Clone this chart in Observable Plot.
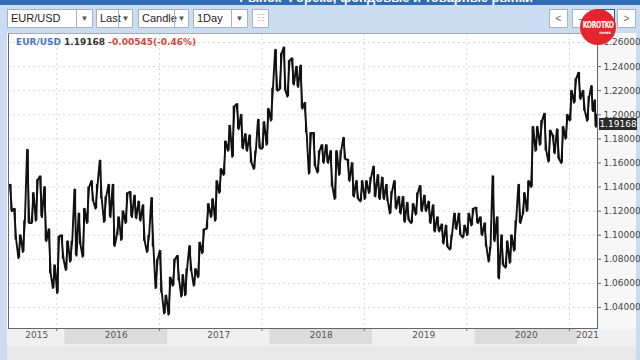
<!DOCTYPE html>
<html><head><meta charset="utf-8">
<script src="https://cdn.jsdelivr.net/npm/d3@7"></script>
<script src="https://cdn.jsdelivr.net/npm/@observablehq/plot@0.6"></script>
<style>
body{margin:0;background:#fff;}
#wrap{position:relative;width:640px;height:360px;overflow:hidden;background:#c9dcf1;font-family:"Liberation Sans",Arial,sans-serif;}
.abs{position:absolute;}
.box{position:absolute;top:9px;height:19px;background:#fff;border:1px solid #a9b3bd;box-sizing:border-box;font-size:11px;color:#222;line-height:17px;}
.box .lab{position:absolute;left:3px;top:0;}
.box .arr{position:absolute;top:0;right:0;width:15px;height:17px;border-left:1px solid #a9b3bd;text-align:center;font-size:8px;color:#555;}
.btn{position:absolute;top:9px;width:19px;height:19px;background:#fff;border:1px solid #a9b3bd;box-sizing:border-box;font-size:10px;color:#666;text-align:center;line-height:17px;}
#chart{position:absolute;left:0;top:0;width:640px;height:360px;}
#chart svg{position:absolute;left:0;top:0;width:640px;height:360px;max-width:none;}
</style></head><body><div id="wrap"></div>
<script>
// ---- data (semi-monthly EUR/USD ranges) ----
const dates = [
"2015-06-16","2015-07-01","2015-07-16","2015-08-01","2015-08-16","2015-09-01","2015-09-16","2015-10-01","2015-10-16","2015-11-01","2015-11-16","2015-12-01","2015-12-16",
"2016-01-01","2016-01-16","2016-02-01","2016-02-16","2016-03-01","2016-03-16","2016-04-01","2016-04-16","2016-05-01","2016-05-16","2016-06-01","2016-06-16","2016-07-01","2016-07-16","2016-08-01","2016-08-16","2016-09-01","2016-09-16","2016-10-01","2016-10-16","2016-11-01","2016-11-16","2016-12-01","2016-12-16",
"2017-01-01","2017-01-16","2017-02-01","2017-02-16","2017-03-01","2017-03-16","2017-04-01","2017-04-16","2017-05-01","2017-05-16","2017-06-01","2017-06-16","2017-07-01","2017-07-16","2017-08-01","2017-08-16","2017-09-01","2017-09-16","2017-10-01","2017-10-16","2017-11-01","2017-11-16","2017-12-01","2017-12-16",
"2018-01-01","2018-01-16","2018-02-01","2018-02-16","2018-03-01","2018-03-16","2018-04-01","2018-04-16","2018-05-01","2018-05-16","2018-06-01","2018-06-16","2018-07-01","2018-07-16","2018-08-01","2018-08-16","2018-09-01","2018-09-16","2018-10-01","2018-10-16","2018-11-01","2018-11-16","2018-12-01","2018-12-16",
"2019-01-01","2019-01-16","2019-02-01","2019-02-16","2019-03-01","2019-03-16","2019-04-01","2019-04-16","2019-05-01","2019-05-16","2019-06-01","2019-06-16","2019-07-01","2019-07-16","2019-08-01","2019-08-16","2019-09-01","2019-09-16","2019-10-01","2019-10-16","2019-11-01","2019-11-16","2019-12-01","2019-12-16",
"2020-01-01","2020-01-16","2020-02-01","2020-02-16","2020-03-01","2020-03-16","2020-04-01","2020-04-16","2020-05-01","2020-05-16","2020-06-01","2020-06-16","2020-07-01","2020-07-16","2020-08-01","2020-08-16","2020-09-01","2020-09-16","2020-10-01","2020-10-16","2020-11-01","2020-11-16","2020-12-01","2020-12-16",
"2021-01-01","2021-01-16","2021-02-01","2021-02-16","2021-03-01","2021-03-10"
];
const lows = [
1.120,1.096,1.081,1.086,1.110,1.110,1.112,1.115,1.095,1.068,1.056,1.052,1.080,
1.071,1.078,1.083,1.092,1.082,1.110,1.128,1.122,1.130,1.111,1.115,1.091,1.100,1.096,1.110,1.115,1.114,1.112,1.095,1.086,1.090,1.056,1.052,1.035,
1.034,1.058,1.062,1.049,1.050,1.070,1.058,1.065,1.085,1.105,1.115,1.112,1.135,1.150,1.170,1.165,1.188,1.172,1.170,1.160,1.155,1.172,1.172,1.175,
1.195,1.220,1.221,1.220,1.215,1.225,1.223,1.205,1.185,1.151,1.157,1.152,1.160,1.160,1.140,1.130,1.150,1.163,1.145,1.132,1.130,1.128,1.130,1.135,
1.132,1.130,1.130,1.128,1.118,1.122,1.118,1.111,1.112,1.110,1.117,1.120,1.120,1.110,1.103,1.103,1.093,1.090,1.088,1.105,1.100,1.098,1.100,1.108,
1.110,1.100,1.090,1.078,1.095,1.064,1.075,1.073,1.077,1.087,1.110,1.117,1.120,1.140,1.170,1.175,1.170,1.161,1.168,1.163,1.160,1.180,1.195,1.210,
1.213,1.203,1.195,1.203,1.190,1.1917
];
const highs = [
1.142,1.122,1.100,1.112,1.171,1.135,1.146,1.149,1.140,1.105,1.075,1.099,1.100,
1.095,1.095,1.138,1.118,1.122,1.140,1.145,1.142,1.162,1.132,1.142,1.142,1.115,1.120,1.135,1.136,1.133,1.128,1.125,1.100,1.131,1.080,1.087,1.050,
1.065,1.080,1.083,1.067,1.072,1.091,1.072,1.094,1.105,1.126,1.130,1.145,1.155,1.178,1.191,1.207,1.209,1.200,1.184,1.183,1.170,1.196,1.194,1.205,
1.222,1.254,1.251,1.256,1.245,1.247,1.240,1.241,1.210,1.185,1.185,1.170,1.175,1.175,1.170,1.170,1.170,1.181,1.163,1.160,1.145,1.145,1.145,1.148,
1.157,1.150,1.148,1.142,1.136,1.145,1.132,1.132,1.127,1.126,1.135,1.141,1.133,1.128,1.125,1.115,1.109,1.108,1.100,1.118,1.118,1.108,1.118,1.122,
1.123,1.115,1.110,1.090,1.149,1.115,1.100,1.095,1.100,1.112,1.142,1.135,1.145,1.190,1.190,1.195,1.201,1.187,1.183,1.188,1.190,1.200,1.220,1.230,
1.235,1.220,1.215,1.224,1.212,1.200
];
const yTicks = [1.04,1.06,1.08,1.10,1.12,1.14,1.16,1.18,1.20,1.22,1.24,1.26];
const years = [2015,2016,2017,2018,2019,2020,2021];
const gridDates = ["2015-12-03","2016-12-03","2017-12-03","2018-12-03","2019-12-03","2020-12-03"];
const shadedYears = [2016,2018,2020];
const symbol = "EUR/USD", lastPrice = "1.19168", change = "-0.00545(-0.46%)";
const lastValue = 1.19168;

// ---- build ----
const x0 = new Date("2015-06-14"), x1 = new Date("2021-03-13");
const yMin = 1.0225, yMax = 1.2675;
const periods = dates.map((d,i)=>({t:new Date(d), lo:lows[i], hi:highs[i]}));
const zig = [];
periods.forEach((p,i)=>{
  const n = periods[i+1];
  const up = n ? (n.lo+n.hi) > (p.lo+p.hi) : false;
  const span = n ? (n.t - p.t) : 3*864e5;
  p.mid = new Date(+p.t + span*0.45);
  zig.push({t:new Date(+p.t + span*0.2), v: up ? p.lo : p.hi});
  zig.push({t:new Date(+p.t + span*0.7), v: up ? p.hi : p.lo});
});
const yr = y => new Date(Date.UTC(y,0,1));
const labels = years.map(y=>{
  const a = Math.max(+yr(y), +x0), b = Math.min(+yr(y+1), +x1);
  return {year:y, t:new Date((a+b)/2)};
});
const pxPerUnit = 24/0.02;
const chart = Plot.plot({
  width:640, height:360,
  marginLeft:8, marginRight:43, marginTop:33, marginBottom:32,
  style:{background:"transparent", fontFamily:"DejaVu Sans", fontSize:"9px", color:"#444", overflow:"visible"},
  x:{type:"utc", domain:[x0,x1], axis:null},
  y:{domain:[yMin,yMax], axis:null},
  marks:[
    Plot.rect(shadedYears, {x1:d=>yr(d), x2:d=>yr(d+1), y1:yMin-1/pxPerUnit, y2:yMin-16/pxPerUnit, fill:"#dcdcdc"}),
    Plot.gridY(yTicks, {stroke:"#d6d6d6", strokeOpacity:1, strokeDasharray:"2,3"}),
    Plot.gridX(gridDates.map(d=>new Date(d)), {stroke:"#d6d6d6", strokeOpacity:1, strokeDasharray:"2,3"}),
    Plot.ruleX(periods, {x:"mid", y1:"lo", y2:"hi", stroke:"#111", strokeWidth:1.3}),
    Plot.line(zig, {x:"t", y:"v", stroke:"#111", strokeWidth:1.9}),
    Plot.axisY(yTicks, {anchor:"right", label:null, tickSize:3, tickPadding:3, tickFormat:d3.format(".5f"), stroke:"#666", fill:"#444"}),
    Plot.axisX(gridDates.map(d=>new Date(d)), {anchor:"bottom", label:null, tickSize:3, tickFormat:()=>"", stroke:"#666"}),
    Plot.text(labels, {x:"t", text:d=>String(d.year), frameAnchor:"bottom", dy:9, fill:"#555", fontSize:9}),
    Plot.frame({anchor:"left", stroke:"#666"}),
    Plot.frame({anchor:"bottom", stroke:"#666"}),
    Plot.frame({anchor:"right", stroke:"#666"}),
    Plot.frame({anchor:"top", stroke:"#aaa"})
  ]
});

const wrap = document.getElementById("wrap");
function el(html){ wrap.insertAdjacentHTML("beforeend", html); }
// backgrounds
el('<div class="abs" style="left:7px;top:33px;width:629px;height:296px;background:#fff"></div>');
el('<div class="abs" style="left:598px;top:33px;width:38px;height:296px;background:#f7f7f7"></div>');
el('<div class="abs" style="left:7px;top:329px;width:629px;height:31px;background:#f0f0f0"></div>');
el('<div class="abs" style="left:7px;top:346px;width:629px;height:14px;background:#e8e8e8"></div>');
// top bar
el('<div class="abs" style="left:0;top:0;width:640px;height:5px;background:#2f6cb4;overflow:hidden"><div style="position:absolute;left:0;width:533px;top:-10px;text-align:right;color:#fff;font:bold 13px \'Liberation Sans\',Arial;white-space:nowrap">Рынок Форекс, фондовые и товарные рынки</div></div>');
// chart svg
const holder = document.createElement("div"); holder.id="chart";
holder.appendChild(chart); wrap.appendChild(holder);
// toolbar
el('<div class="box" style="left:7px;width:86px"><span class="lab">EUR/USD</span><span class="arr">&#9660;</span></div>');
el('<div class="box" style="left:96px;width:37px"><span class="lab">Last</span><span class="arr" style="width:13px">&#9660;</span></div>');
el('<div class="box" style="left:138px;width:51px"><span class="lab">Candle</span><span class="arr" style="width:13px">&#9660;</span></div>');
el('<div class="box" style="left:193px;width:55px"><span class="lab">1Day</span><span class="arr">&#9660;</span></div>');
el('<div class="btn" style="left:252px;width:17px;color:#bbb;font-size:9px">&#9783;</div>');
el('<div class="btn" style="left:549px">&lt;</div>');
el('<div class="btn" style="left:572px">&ndash;</div>');
el('<div class="btn" style="left:596px;border-color:#2f5f9a"></div>');
el('<div class="btn" style="left:617px">&gt;</div>');
// logo
el('<div class="abs" style="left:580px;top:9px;width:36px;height:36px;border-radius:50%;background:#e2262c;color:#fff;text-align:center"><div style="font:bold 8px \'DejaVu Sans Condensed\',\'DejaVu Sans\';letter-spacing:-0.4px;margin-top:12px;transform:scaleX(0.85)">KOROTKO</div><div style="font:bold 4px \'DejaVu Sans\';text-align:right;padding-right:5px">news</div></div>');
// header
el('<div class="abs" style="left:16px;top:37px;font:bold 9px \'DejaVu Sans\';white-space:nowrap"><span style="color:#4a78c2">'+symbol+'</span> <span style="color:#333">'+lastPrice+'</span> <span style="color:#d9443a">'+change+'</span></div>');
// last price label
const yPx = chart.scale("y").apply(lastValue);
el('<div class="abs" style="left:599px;top:'+(yPx-6)+'px;width:38px;height:12px;background:#2b2b2b;color:#fff;font:9px \'DejaVu Sans\';line-height:12px;text-align:center">'+lastPrice+'</div>');
</script></body></html>
